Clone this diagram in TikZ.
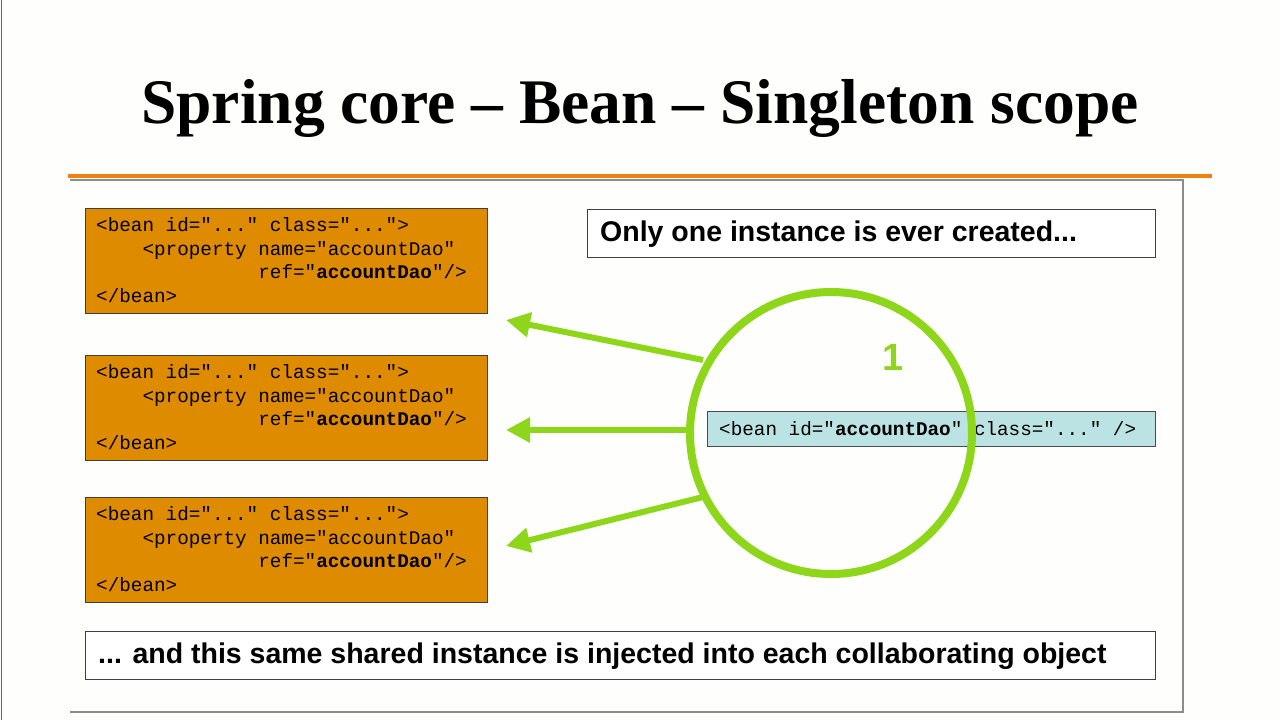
\documentclass[tikz,border=0pt]{standalone}
\usepackage{fontspec}
\setmainfont{Liberation Serif}
\setsansfont{Liberation Sans}
\setmonofont{Liberation Mono}
\usetikzlibrary{arrows.meta}
\definecolor{orng}{HTML}{DF8B00}
\definecolor{lblue}{HTML}{BCE3E3}
\definecolor{grn}{HTML}{8ED61A}
\definecolor{bg}{HTML}{FEFEFC}
\tikzset{
 beanbox/.style={draw=black!75,line width=1.2pt,fill=orng,minimum width=402pt,minimum height=105pt,anchor=north west,inner sep=0pt},
 msgbox/.style={draw=black!75,line width=1.2pt,fill=white,anchor=north west,inner sep=0pt},
 msgtext/.style={font=\sffamily\bfseries\fontsize{28.5}{32}\selectfont,anchor=west,inner sep=0pt},
 arr/.style={draw=grn,line width=6pt,-{Triangle[length=24pt,width=24pt]}},
}
\newcommand{\beancode}{\begin{tabular}{@{}l@{}}<bean id="..." class="...">\\
\ \ \ \ <property name="accountDao"\\
\ \ \ \ \ \ \ \ \ \ \ \ \ \ ref="\textbf{accountDao}"/>\\
</bean>\end{tabular}}
\begin{document}
\begin{tikzpicture}[x=1pt,y=-1pt]
\fill[bg] (0,0) rectangle (1280,720);
\useasboundingbox (0,0) rectangle (1280,720);
\draw[black!60,line width=1pt] (1,0) -- (1,720);
\node[font=\rmfamily\bfseries\fontsize{63.5}{70}\selectfont] (title) at (640,108) {Spring core – Bean – Singleton scope};
\draw[black!45,line width=1.5pt] (70,180) -- (1183,180) -- (1183,712) -- (70,712);
\draw[orange!80!brown,line width=4pt] (68,176) -- (1212,176);
\tikzset{code/.style={font=\ttfamily\fontsize{19.3}{23.5}\selectfont,align=left,anchor=north west,inner sep=0pt}}
\node[beanbox] (b1) at (85,208) {};
\node[beanbox] (b2) at (85,355) {};
\node[beanbox] (b3) at (85,497) {};
\node[code] (c1) at (96,215) {\beancode};
\node[code] (c2) at (96,362) {\beancode};
\node[code] (c3) at (96,504) {\beancode};
\node[msgbox,minimum width=568pt,minimum height=48pt] (only) at (587,209) {};
\node[msgtext] (onlyt) at (600,234) {Only one instance is ever created...};
\node[msgbox,minimum width=1070pt,minimum height=48pt] (shared) at (85,631) {};
\node[msgtext] (sharedt) at (98,656) {... and this same shared instance is injected into each collaborating object};
\node[draw=black!70,line width=1.2pt,fill=lblue,minimum width=448pt,minimum height=35pt,anchor=north west,inner sep=0pt] (dao) at (707,411) {};
\node[font=\ttfamily\fontsize{19.3}{22}\selectfont,anchor=west,inner sep=0pt] (daot) at (719,429) {<bean id="\textbf{accountDao}" class="..." />};
\coordinate (e1) at (703,360);
\coordinate (e2) at (692,430);
\coordinate (e3) at (703,497);
\coordinate (t1) at (506,320);
\coordinate (t2) at (506,430);
\coordinate (t3) at (506,546);
\draw[arr] (e1) -- (t1);
\draw[arr] (e2) -- (t2);
\draw[arr] (e3) -- (t3);
\node[draw=grn,line width=8pt,circle,minimum size=282pt] (circ) at (831,433) {};
\node[text=grn,font=\sffamily\bfseries\fontsize{38}{40}\selectfont] (one) at (893,357) {1};
\end{tikzpicture}
\end{document}
